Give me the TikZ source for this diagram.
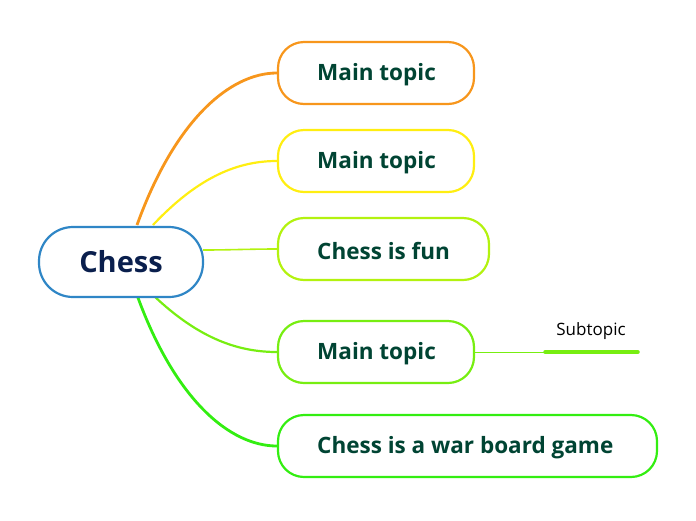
\documentclass[tikz,border=0pt]{standalone}
\usepackage{fontspec}
\setmainfont{Open Sans}
\begin{document}
\begin{tikzpicture}[x=1pt,y=-1pt,
  topic/.style={draw=#1,line width=2.2pt,rounded corners=26pt,minimum height=62pt,fill=white},
  ttext/.style={anchor=west,text=tgreen,font=\bfseries\fontsize{22.5}{26}\selectfont,inner sep=0pt}]
\definecolor{tgreen}{HTML}{004433}
\definecolor{corange}{HTML}{F7961C}
\definecolor{cyellow}{HTML}{FFEE11}
\definecolor{cyg}{HTML}{B3F20F}
\definecolor{cg1}{HTML}{77EE11}
\definecolor{cg2}{HTML}{33EE11}
\definecolor{cblue}{HTML}{2F86C6}
\useasboundingbox (0,0) rectangle (696,520);
\node[topic=corange,minimum width=196pt] (t1) at (376,73) {};
\node[topic=cyellow,minimum width=196pt] (t2) at (376,161) {};
\node[topic=cyg,minimum width=211pt] (t3) at (383.5,249) {};
\node[topic=cg1,minimum width=196pt] (t4) at (376,352) {};
\node[topic=cg2,minimum width=379pt] (t5) at (467.5,446) {};
\node[ttext] (l1) at (317,75) {Main topic};
\node[ttext] (l2) at (317,163) {Main topic};
\node[ttext] (l3) at (317,251) {Chess is fun};
\node[ttext] (l4) at (317,354) {Main topic};
\node[ttext] (l5) at (317,448) {Chess is a war board game};
\node[font=\fontsize{17}{20}\selectfont] (s) at (591,331) {Subtopic};
\coordinate (sa) at (545,352);
\coordinate (sb) at (638,352);
\draw[corange,line width=2.8pt] (137,225) .. controls (175,120) and (230,73) .. (t1.west);
\draw[cyellow,line width=2.2pt] (153,225) .. controls (200,175) and (240,161) .. (t2.west);
\draw[cyg,line width=1.6pt] (203,250) .. controls (230,250) and (250,249) .. (t3.west);
\draw[cg1,line width=2.2pt] (153,295) .. controls (200,340) and (240,352) .. (t4.west);
\draw[cg2,line width=2.8pt] (137,295) .. controls (175,400) and (230,446) .. (t5.west);
\draw[cg1,line width=1pt] (t4.east) -- (sa);
\draw[cg1,line width=3.5pt,line cap=round] (sa) -- (sb);
\node[draw=cblue,line width=2.2pt,rounded corners=34pt,minimum width=164pt,minimum height=70pt,fill=white,text={rgb,255:red,10;green,31;blue,77},font=\bfseries\fontsize{29}{34}\selectfont] (c) at (121,262) {};
\node[text={rgb,255:red,10;green,31;blue,77},font=\bfseries\fontsize{29}{34}\selectfont] (ct) at (121,262) {Chess};
\end{tikzpicture}
\end{document}
